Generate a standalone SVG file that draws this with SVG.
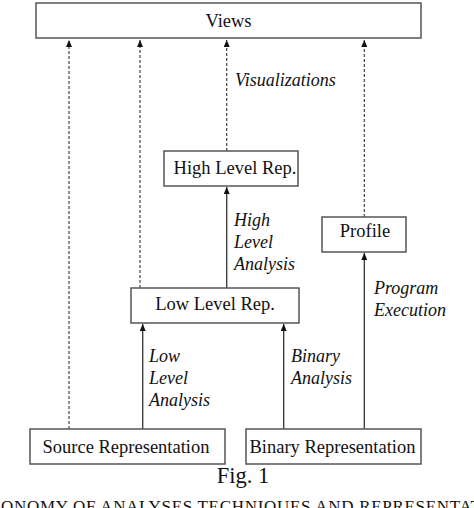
<svg xmlns="http://www.w3.org/2000/svg" width="474" height="508" viewBox="0 0 474 508">
  <style>
    .box { fill: #fff; stroke: #555; stroke-width: 1.5; }
    .lbl { font-family: "Liberation Serif", "Times New Roman", serif; font-size: 18.5px; fill: #111; }
    .it { font-family: "Liberation Serif", "Times New Roman", serif; font-size: 18px; font-style: italic; fill: #111; }
    .solid { stroke: #333; stroke-width: 1.3; fill: none; marker-end: url(#ah); }
    .dash { stroke: #333; stroke-width: 1.1; fill: none; stroke-dasharray: 3 2; marker-end: url(#ah); }
  </style>
  <defs>
    <marker id="ah" viewBox="0 0 7 6" refX="7" refY="3" markerWidth="7" markerHeight="6" markerUnits="userSpaceOnUse" orient="auto">
      <path d="M0,0 L7,3 L0,6 z" fill="#111"/>
    </marker>
  </defs>
  <rect width="474" height="508" fill="#fff"/>

  <g id="connectors">
    <line class="dash" x1="69" y1="429" x2="69" y2="40"/>
    <line class="dash" x1="140" y1="288" x2="140" y2="40"/>
    <line class="dash" x1="226.7" y1="151" x2="226.7" y2="40"/>
    <line class="dash" x1="364.3" y1="217" x2="364.3" y2="40"/>
    <line class="solid" x1="226.7" y1="288" x2="226.7" y2="187"/>
    <line class="solid" x1="142.7" y1="429" x2="142.7" y2="324"/>
    <line class="solid" x1="283.7" y1="429" x2="283.7" y2="324"/>
    <line class="solid" x1="364.3" y1="429" x2="364.3" y2="253"/>
    <text class="it" x="235" y="86">Visualizations</text>
    <text class="it" x="234" y="226">High</text>
    <text class="it" x="234" y="248">Level</text>
    <text class="it" x="234" y="270">Analysis</text>
    <text class="it" x="374" y="294">Program</text>
    <text class="it" x="374" y="316">Execution</text>
    <text class="it" x="149" y="362">Low</text>
    <text class="it" x="149" y="384">Level</text>
    <text class="it" x="149" y="406">Analysis</text>
    <text class="it" x="291" y="362">Binary</text>
    <text class="it" x="291" y="384">Analysis</text>
  </g>

  <g id="views">
    <rect class="box" x="36" y="3" width="385" height="35"/>
    <text class="lbl" x="228.5" y="27" text-anchor="middle">Views</text>
  </g>
  <g id="high-level-rep">
    <rect class="box" x="164" y="151" width="134" height="35"/>
    <text class="lbl" x="235" y="173.5" text-anchor="middle">High Level Rep.</text>
  </g>
  <g id="profile">
    <rect class="box" x="322" y="217" width="84" height="35"/>
    <text class="lbl" x="365" y="237" text-anchor="middle">Profile</text>
  </g>
  <g id="low-level-rep">
    <rect class="box" x="131" y="288" width="168" height="35"/>
    <text class="lbl" x="215" y="310" text-anchor="middle">Low Level Rep.</text>
  </g>
  <g id="source-representation">
    <rect class="box" x="30" y="429" width="195" height="35"/>
    <text class="lbl" x="126" y="453" text-anchor="middle">Source Representation</text>
  </g>
  <g id="binary-representation">
    <rect class="box" x="246" y="429" width="175" height="35"/>
    <text class="lbl" x="332.5" y="453" text-anchor="middle">Binary Representation</text>
  </g>

  <text class="lbl" x="243" y="483" text-anchor="middle" style="font-size:22.5px">Fig. 1</text>
  <text class="lbl" x="1" y="512" textLength="480" lengthAdjust="spacing" style="font-size:17px">ONOMY OF ANALYSES TECHNIQUES AND REPRESENTAT</text>
</svg>
